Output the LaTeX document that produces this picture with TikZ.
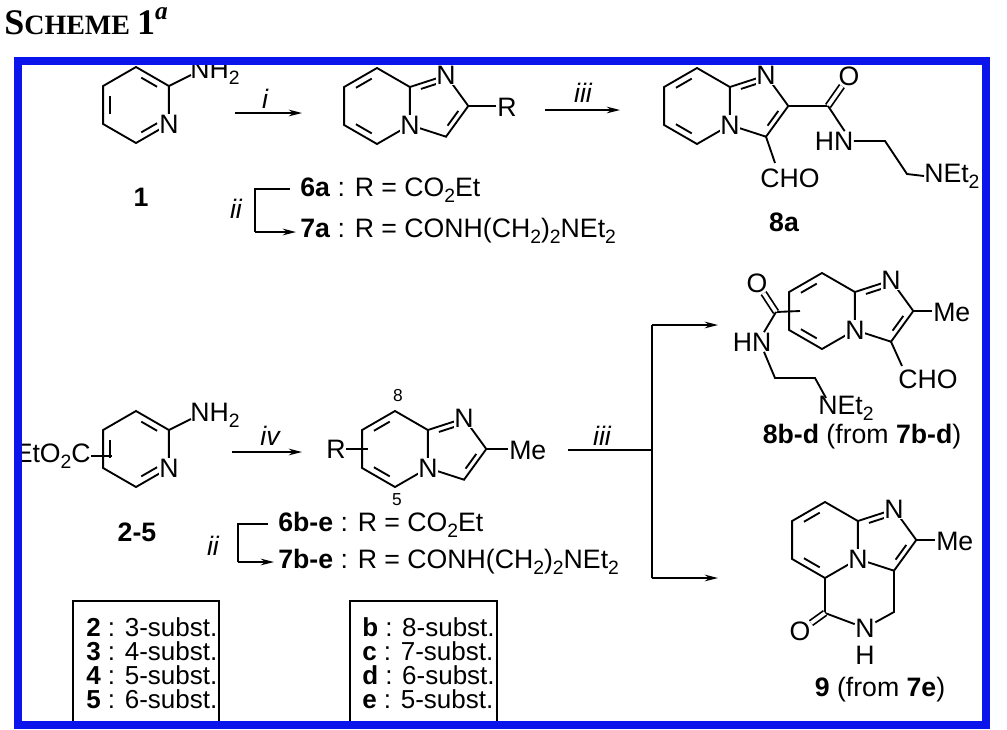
\documentclass[tikz,border=0pt]{standalone}
\usepackage{fontspec}
\setmainfont{Liberation Sans}
\newfontfamily\titlefont{Liberation Serif}
\usetikzlibrary{calc,arrows.meta}
\newcommand{\sbs}[1]{\raisebox{-0.45ex}{\fontsize{14.5}{14}\selectfont #1}}
\definecolor{frameblue}{RGB}{10,20,235}
\newcommand{\hexring}[3]{%
  \coordinate (#1v1) at ($(#2,#3)+(0,-38)$);
  \coordinate (#1v2) at ($(#2,#3)+(32.9,-19)$);
  \coordinate (#1v3) at ($(#2,#3)+(32.9,19)$);
  \coordinate (#1v4) at ($(#2,#3)+(0,38)$);
  \coordinate (#1v5) at ($(#2,#3)+(-32.9,19)$);
  \coordinate (#1v6) at ($(#2,#3)+(-32.9,-19)$);
  \coordinate (#1h) at (#2,#3);
  \draw[bond] (#1v1)--(#1v2)--(#1v3)--(#1v4)--(#1v5)--(#1v6)--cycle;}
\newcommand{\pentring}[3]{%
  \coordinate (#1n1) at ($(#2,#3)+(69,-30.7)$);
  \coordinate (#1c2) at ($(#2,#3)+(91.3,0)$);
  \coordinate (#1c3) at ($(#2,#3)+(69,30.7)$);
  \coordinate (#1p) at ($(#2,#3)+(59.1,0)$);
  \draw[bond] (#1v2)--(#1n1)--(#1c2)--(#1c3)--(#1v3);}
\newcommand{\dbl}[3]{\draw[bond] ($($(#1)!.2!(#2)$)!.2!(#3)$) -- ($($(#2)!.2!(#1)$)!.2!(#3)$);}
\newcommand{\imid}[3]{\hexring{#1}{#2}{#3}\pentring{#1}{#2}{#3}%
  \dbl{#1v1}{#1v6}{#1h}\dbl{#1v5}{#1v4}{#1h}\dbl{#1v2}{#1n1}{#1p}\dbl{#1c2}{#1c3}{#1p}%
  \node[atom] at (#1v3) {N};\node[atom] at (#1n1) {N};}
\tikzset{
  bond/.style={line width=1.4pt},
  atom/.style={fill=white,inner sep=0.3pt,font=\fontsize{20}{22}\selectfont},
  txt/.style={inner sep=0pt,font=\fontsize{20}{22}\selectfont},
  cond/.style={inner sep=0pt,font=\fontsize{20}{22}\selectfont\itshape},
  rarrow/.style={line width=1.2pt,-{Stealth[length=10pt,width=5pt]}},
  co/.style={line width=1.3pt,double,double distance=2.8pt}
}
\begin{document}
\begin{tikzpicture}[x=0.75pt,y=-0.75pt]
\useasboundingbox (0,0) rectangle (1007,729);
\fill[white] (0,0) rectangle (1007,729);
% title
\node[anchor=base west,inner sep=0pt] (title) at (4,34) {\titlefont\bfseries\fontsize{27}{30}\selectfont S\fontsize{21}{24}\selectfont CHEME \fontsize{27}{30}\selectfont 1\raisebox{0.9ex}{\fontsize{19}{20}\selectfont\itshape a}};
% ---- compound 1
\hexring{a}{136}{105}
\dbl{av6}{av5}{ah}\dbl{av1}{av2}{ah}\dbl{av4}{av3}{ah}
\node[atom] at (av3) {N};
\coordinate (anh) at (191,75);
\draw[bond] (av2) -- (anh);
\node[txt,anchor=west] (nh2a) at (190,72) {NH\sbs{2}};
\node[txt,font=\fontsize{20}{22}\selectfont\bfseries] (l1) at (141,197) {1};
% arrow i
\coordinate (i1) at (235,113); \coordinate (i2) at (302,113);
\draw[rarrow] (i1) -- (i2);
\node[cond] (ci) at (265,99) {i};
% ---- 6a
\imid{b}{377}{106}
\coordinate (bR) at (496,106);
\draw[bond] (bc2) -- (bR);
\node[txt,anchor=west] (Rb) at (497,107) {R};
% arrow iii top
\coordinate (t1) at (545,110); \coordinate (t2) at (620,110);
\draw[rarrow] (t1) -- (t2);
\node[cond] (ciii) at (583,93) {iii};
% bracket ii top
\coordinate (k1) at (290,189); \coordinate (k2) at (255,189); \coordinate (k3) at (255,232); \coordinate (k4) at (296,232);
\draw[line width=1.2pt] (k1) -- (k2) -- (k3);
\draw[rarrow] (k3) -- (k4);
\node[cond] (cii) at (236,209) {ii};
\node[txt,anchor=west] (t6a) at (300,190) {\textbf{6a} : R = CO\sbs{2}Et};
\node[txt,anchor=west] (t7a) at (300,231) {\textbf{7a} : R = CONH(CH\sbs{2})\sbs{2}NEt\sbs{2}};
% ---- 8a
\imid{c}{697}{106}
\coordinate (cam) at (828,106);
\draw[bond] (cc2) -- (cam);
\node[atom] (cO) at (849,76) {O};
\draw[co] (cam) -- (cO);
\node[atom] (cHN) at (834,141) {HN};
\draw[bond] (cam) -- ([xshift=8]cHN.north);
\coordinate (cq1) at (885,141); \coordinate (cq2) at (907,174);
\node[txt,anchor=west] (cNEt) at (924,176) {NEt\sbs{2}};
\draw[bond] (cHN.east) -- (cq1) -- (cq2) -- (cNEt.west);
\coordinate (ccho) at (775,163);
\draw[bond] (cc3) -- (ccho);
\node[txt] (cCHO) at (790,178) {CHO};
\node[txt,font=\fontsize{20}{22}\selectfont\bfseries] (l8a) at (784,222) {8a};
% ---- 2-5
\hexring{d}{136}{449}
\dbl{dv6}{dv5}{dh}\dbl{dv1}{dv2}{dh}\dbl{dv4}{dv3}{dh}
\node[atom] at (dv3) {N};
\coordinate (dnh) at (191,419);
\draw[bond] (dv2) -- (dnh);
\node[txt,anchor=west] (nh2d) at (190,415) {NH\sbs{2}};
\node[txt,anchor=east] (etd) at (91,456) {EtO\sbs{2}C};
\coordinate (dsub) at (112,456);
\draw[bond] (etd.east) -- (dsub);
\node[txt,font=\fontsize{20}{22}\selectfont\bfseries] (l25) at (137,532) {2-5};
% arrow iv
\coordinate (iv1) at (232,452); \coordinate (iv2) at (302,452);
\draw[rarrow] (iv1) -- (iv2);
\node[cond] (civ) at (270,436) {iv};
% ---- 6b-e
\imid{e}{395}{449}
\node[txt] (eR) at (336,449) {R};
\coordinate (esub) at (368,449);
\draw[bond] (eR.east) -- (esub);
\coordinate (eme) at (508,449);
\draw[bond] (ec2) -- (eme);
\node[txt,anchor=west] (eMe) at (509,450) {Me};
\node[inner sep=0pt,font=\fontsize{13}{14}\selectfont] (n8) at (398,396) {8};
\node[inner sep=0pt,font=\fontsize{13}{14}\selectfont] (n5) at (397,500) {5};
% bracket ii bottom
\coordinate (m1) at (268,524); \coordinate (m2) at (238,524); \coordinate (m3) at (238,562); \coordinate (m4) at (274,562);
\draw[line width=1.2pt] (m1) -- (m2) -- (m3);
\draw[rarrow] (m3) -- (m4);
\node[cond] (cii2) at (213,546) {ii};
\node[txt,anchor=west] (t6b) at (278,525) {\textbf{6b-e} : R = CO\sbs{2}Et};
\node[txt,anchor=west] (t7b) at (278,562) {\textbf{7b-e} : R = CONH(CH\sbs{2})\sbs{2}NEt\sbs{2}};
% arrow iii bottom with split
\coordinate (s1) at (568,450); \coordinate (s2) at (652,450);
\coordinate (s3) at (652,325); \coordinate (s4) at (652,578);
\coordinate (s5) at (718,325); \coordinate (s6) at (718,578);
\draw[line width=1.2pt] (s1) -- (s2);
\draw[line width=1.2pt] (s3) -- (s4);
\draw[rarrow] (s3) -- (s5);
\draw[rarrow] (s4) -- (s6);
\node[cond] (ciii2) at (602,436) {iii};
% ---- 8b-d
\imid{f}{822}{311}
\coordinate (fam) at (776,312);
\coordinate (fsub) at (800,311);
\draw[bond] (fsub) -- (fam);
\node[atom] (fO) at (757,283) {O};
\draw[co] (fam) -- (fO);
\node[atom] (fHN) at (752,342) {HN};
\draw[bond] (fam) -- ([xshift=9]fHN.north);
\coordinate (fq1) at (775,378); \coordinate (fq2) at (815,378); \coordinate (fq3) at (826,398);
\draw[bond] ([xshift=9]fHN.south) -- (fq1) -- (fq2) -- (fq3);
\node[txt] (fNEt) at (846,408) {NEt\sbs{2}};
\coordinate (fme) at (932,311);
\draw[bond] (fc2) -- (fme);
\node[txt,anchor=west] (fMe) at (933,312) {Me};
\coordinate (fcho) at (902,366);
\draw[bond] (fc3) -- (fcho);
\node[txt] (fCHO) at (928,379) {CHO};
\node[txt] (l8b) at (862,437) {\textbf{8b-d} (from \textbf{7b-d})};
% ---- 9
\imid{g}{825}{540}
\coordinate (gme) at (935,540);
\draw[bond] (gc2) -- (gme);
\node[txt,anchor=west] (gMe) at (936,541) {Me};
\coordinate (gch) at (894,612);
\coordinate (gco) at (825,613);
\node[atom] (gN) at (865,628) {N};
\node[txt] (gH) at (865,655) {H};
\node[atom] (gO) at (800,631) {O};
\draw[bond] (gc3) -- (gch) -- (gN);
\draw[bond] (gv4) -- (gco) -- (gN);
\draw[co] (gco) -- (gO);
\node[txt] (l9) at (880,690) {\textbf{9} (from \textbf{7e})};
% ---- boxes
\draw[line width=1.1pt] (73,727) -- (73,601) -- (219,601) -- (219,727);
\draw[line width=1.1pt] (350,727) -- (350,601) -- (497,601) -- (497,727);
\begin{scope}[every node/.style={txt,anchor=west,font=\fontsize{19.5}{21}\selectfont}]
\node (b2) at (86,627) {\textbf{2} : 3-subst.};
\node (b3) at (86,651) {\textbf{3} : 4-subst.};
\node (b4) at (86,675) {\textbf{4} : 5-subst.};
\node (b5) at (86,699) {\textbf{5} : 6-subst.};
\node (bb) at (362,627) {\textbf{b} : 8-subst.};
\node (bc) at (362,651) {\textbf{c} : 7-subst.};
\node (bd) at (362,675) {\textbf{d} : 6-subst.};
\node (be) at (362,699) {\textbf{e} : 5-subst.};
\end{scope}
% frame
\draw[frameblue,line width=6.5pt] (18,61) rectangle (986,725);
\end{tikzpicture}
\end{document}
